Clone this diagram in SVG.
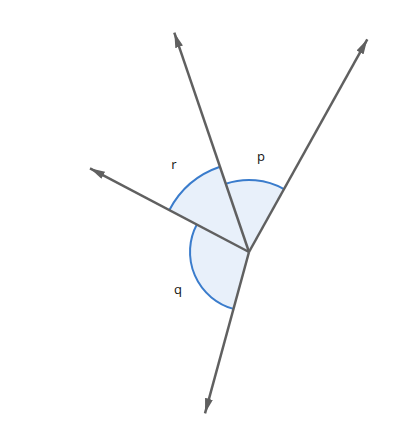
<svg xmlns="http://www.w3.org/2000/svg" width="409" height="427" viewBox="0 0 409 427">
<style>
.sector{fill:#e8f0fa;stroke:none}
.arc{fill:none;stroke:#3a7ccc;stroke-width:2}
.ray{stroke:#606060;stroke-width:2.5;fill:none;marker-end:url(#ah)}
.lbl{font-family:"Open Sans","Liberation Sans",sans-serif;font-size:13px;fill:#111;text-anchor:middle}
</style>
<defs>
<marker id="ah" viewBox="0 0 15 8" refX="15" refY="4" markerWidth="15" markerHeight="8" markerUnits="userSpaceOnUse" orient="auto">
<path d="M0,0 L15,4 L0,8 Z" fill="#606060"/>
</marker>
</defs>
<g id="angle-p">
<path class="sector" d="M249,252 L284.0,189.1 A72,72 0 0 0 225.8,183.8 Z"/>
<path class="arc" d="M284.0,189.1 A72,72 0 0 0 225.8,183.8"/>
<text class="lbl" x="261" y="161">p</text>
</g>
<g id="angle-r">
<path class="sector" d="M249,252 L220.0,166.8 A90,90 0 0 0 169.4,210.0 Z"/>
<path class="arc" d="M220.0,166.8 A90,90 0 0 0 169.4,210.0"/>
<text class="lbl" x="174" y="169">r</text>
</g>
<g id="angle-q">
<path class="sector" d="M249,252 L196.8,224.5 A59,59 0 0 0 233.4,308.9 Z"/>
<path class="arc" d="M196.8,224.5 A59,59 0 0 0 233.4,308.9"/>
<text class="lbl" x="178" y="294">q</text>
</g>
<g id="connectors">
<line class="ray" x1="249" y1="252" x2="367.3" y2="39.3"/>
<line class="ray" x1="249" y1="252" x2="174.3" y2="32.7"/>
<line class="ray" x1="249" y1="252" x2="90" y2="168.3"/>
<line class="ray" x1="249" y1="252" x2="205" y2="413.3"/>
</g>
</svg>
